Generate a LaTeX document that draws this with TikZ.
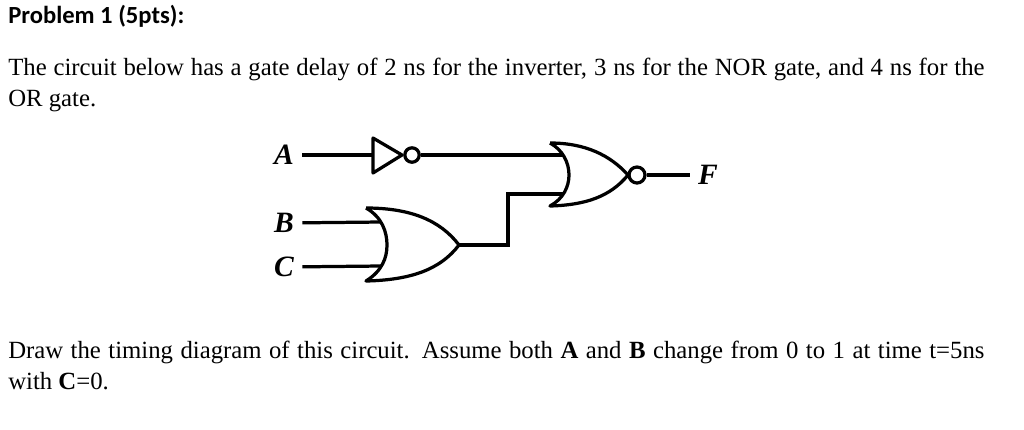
\documentclass[tikz,border=0pt]{standalone}
\usepackage{fontspec}
\setmainfont{Liberation Serif}
\newfontfamily\headfont{Carlito}
\tikzset{wire/.style={line width=2.3pt},
  gatebody/.style={line width=2.3pt,line join=round},
  bubble/.style={circle,draw,line width=2.3pt,fill=white,inner sep=0pt},
  pin/.style={minimum width=0.9cm,inner sep=0pt,font=\fontsize{21}{23}\selectfont\bfseries\itshape},
  para/.style={anchor=north west,inner sep=0pt,text width=24.4cm,align=justify,font=\fontsize{17.6}{22}\selectfont}}
\begin{document}
\begin{tikzpicture}[x=0.025cm,y=-0.025cm]
\useasboundingbox (0,0) rectangle (1024,429);
\node[anchor=base west,inner sep=0pt,font=\headfont\bfseries\fontsize{17.5}{20}\selectfont] (title) at (8,23) {Problem 1 (5pts):};
\node[para] (top) at (8,58) {The circuit below has a gate delay of 2 ns for the inverter, 3 ns for the NOR gate, and 4 ns for the OR gate.};
\node[para] (bottom) at (8,341) {Draw the timing diagram of this circuit. Assume both \textbf{A} and \textbf{B} change from 0 to 1 at time t=5ns\linebreak with \textbf{C}=0.};
% inputs and output
\node[pin] (A) at (284,155) {A};
\node[pin] (B) at (284,223) {B};
\node[pin] (C) at (284,267) {C};
\node[pin] (F) at (708,175) {F};
% ports
\coordinate (invin) at (373,155);
\coordinate (invtip) at (402,155);
\coordinate (invtop) at (373,138);
\coordinate (invbot) at (373,173);
\coordinate (orb) at (381,222);
\coordinate (orc) at (381,266);
\coordinate (ortip) at (459,245);
\coordinate (ortop) at (366,208);
\coordinate (orbot) at (366,281);
\coordinate (nora) at (563,155);
\coordinate (norb) at (563,194);
\coordinate (nortip) at (628,175);
\coordinate (nortop) at (550,143);
\coordinate (norbot) at (550,206);
\coordinate (bend1) at (508,245);
\coordinate (bend2) at (508,194);
\node[bubble,minimum size=0.36cm] (invbub) at (412,155) {};
\node[bubble,minimum size=0.4cm] (norbub) at (637,175) {};
% wires
\draw[wire] (A) -- (invin);
\draw[wire] (invbub) -- (nora);
\draw[wire] (B) -- (orb);
\draw[wire] (C) -- (orc);
\draw[wire] (ortip) -- (bend1) -- (bend2) -- (norb);
\draw[wire] (norbub) -- (F);
% gates
\draw[gatebody] (invtop) -- (invtip) -- (invbot) -- cycle;
\draw[gatebody] (ortop) .. controls (382,217) and (387,232) .. (387,245) .. controls (387,258) and (382,271) .. (orbot)
  .. controls (410,280) and (440,270) .. (ortip) .. controls (440,220) and (410,208) .. (ortop);
\draw[gatebody] (nortop) .. controls (563,150) and (569,163) .. (569,175) .. controls (569,187) and (563,199) .. (norbot)
  .. controls (585,205) and (610,197) .. (nortip) .. controls (610,155) and (585,143) .. (nortop);
\end{tikzpicture}
\end{document}
